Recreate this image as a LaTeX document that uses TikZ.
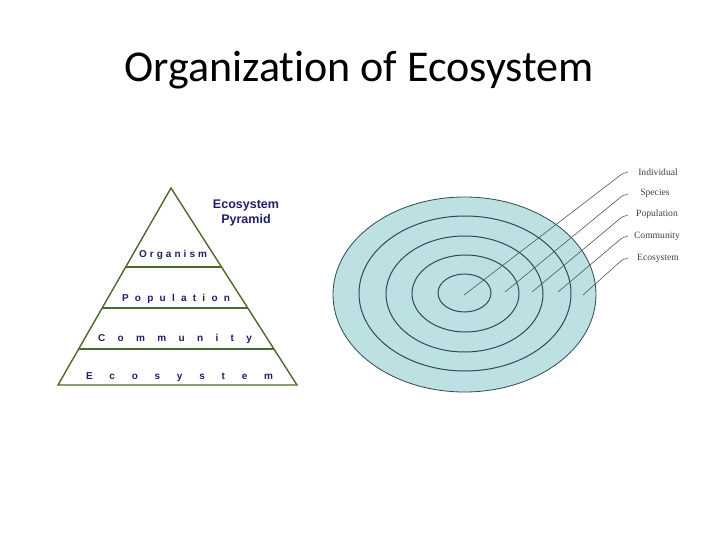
\documentclass[tikz,border=0pt]{standalone}
\usepackage{fontspec}
\setmainfont{Liberation Serif}
\newfontfamily\titlefont[Ligatures=NoCommon]{Carlito}
\newfontfamily\pyrfont{Liberation Sans}
\usetikzlibrary{calc}
\definecolor{pyrline}{HTML}{4B6B2E}
\definecolor{pyrtext}{HTML}{1F1F66}
\definecolor{ringfill}{HTML}{BDE0E3}
\definecolor{ringline}{HTML}{2F4A50}
\definecolor{leader}{HTML}{555555}
\newcommand\spreadw[2]{\hbox to #1{#2}}
\begin{document}
\begin{tikzpicture}[x=1pt,y=-1pt,
  pyr/.style={draw=pyrline,line width=1.4pt,line join=miter},
  tier/.style={draw=pyrline,line width=1.4pt},
  tiertext/.style={font=\pyrfont\bfseries\fontsize{10}{11}\selectfont,text=pyrtext,inner sep=0pt,anchor=base},
  ring/.style={draw=ringline,line width=1pt},
  lab/.style={font=\fontsize{9.6}{11}\selectfont,text=black!75,inner sep=0pt},
  lead/.style={draw=leader,line width=0.6pt}]
\useasboundingbox (0,0) rectangle (720,540);
% title
\node[font=\titlefont\fontsize{44}{50}\selectfont,anchor=base,inner sep=0pt] (title) at (359,82) {Organization of Ecosystem};
% pyramid
\coordinate (apex) at (171,188);
\coordinate (bl) at (58,385);
\coordinate (br) at (297,385);
\draw[pyr] (apex) -- (bl) -- (br) -- cycle;
\draw[tier] ($(apex)!{(267-188)/(385-188)}!(bl)$) coordinate (t1l) -- ($(apex)!{(267-188)/(385-188)}!(br)$) coordinate (t1r);
\draw[tier] ($(apex)!{(308-188)/(385-188)}!(bl)$) coordinate (t2l) -- ($(apex)!{(308-188)/(385-188)}!(br)$) coordinate (t2r);
\draw[tier] ($(apex)!{(349-188)/(385-188)}!(bl)$) coordinate (t3l) -- ($(apex)!{(349-188)/(385-188)}!(br)$) coordinate (t3r);
\node[tiertext] (org) at (173,258) {\spreadw{68pt}{O\hfil r\hfil g\hfil a\hfil n\hfil i\hfil s\hfil m}};
\node[tiertext] (pop) at (176,301) {\spreadw{108pt}{P\hfil o\hfil p\hfil u\hfil l\hfil a\hfil t\hfil i\hfil o\hfil n}};
\node[tiertext] (com) at (175,341) {\spreadw{154pt}{C\hfil o\hfil m\hfil m\hfil u\hfil n\hfil i\hfil t\hfil y}};
\node[tiertext] (eco) at (179.5,379) {\spreadw{187pt}{E\hfil c\hfil o\hfil s\hfil y\hfil s\hfil t\hfil e\hfil m}};
\node[font=\pyrfont\bfseries\fontsize{12.5}{14.5}\selectfont,text=pyrtext,align=center,inner sep=0pt] (ptitle) at (246,213) {Ecosystem\\Pyramid};
% rings
\fill[ringfill] (464.5,294.5) ellipse [x radius=131.5,y radius=97.5];
\draw[ringline,line width=0.8pt] (464.5,294.5) ellipse [x radius=131.5,y radius=97.5];
\draw[ring] (465,293.5) ellipse [x radius=106,y radius=77.5];
\draw[ring] (464.5,294) ellipse [x radius=78.5,y radius=58];
\draw[ring] (465.5,293.5) ellipse [x radius=53.5,y radius=38.5];
\draw[ring] (464.5,293) ellipse [x radius=26.5,y radius=19];
% labels
\node[lab] (lind) at (658,172) {Individual};
\node[lab] (lspe) at (655,193) {Species};
\node[lab] (lpop) at (657,214) {Population};
\node[lab] (lcom) at (657,236) {Community};
\node[lab] (leco) at (658,258) {Ecosystem};
\coordinate (s1) at (464,295);
\coordinate (s2) at (505,292);
\coordinate (s3) at (532,292);
\coordinate (s4) at (558,292);
\coordinate (s5) at (583,295);
\coordinate (k1) at (622,174);
\coordinate (k2) at (622,196);
\coordinate (k3) at (622,217);
\coordinate (k4) at (622,238);
\coordinate (k5) at (622,260);
\coordinate (e1) at (628,172);
\coordinate (e2) at (628,194);
\coordinate (e3) at (628,215);
\coordinate (e4) at (628,236);
\coordinate (e5) at (628,258);
\draw[lead] (s1) -- (k1) -- (e1);
\draw[lead] (s2) -- (k2) -- (e2);
\draw[lead] (s3) -- (k3) -- (e3);
\draw[lead] (s4) -- (k4) -- (e4);
\draw[lead] (s5) -- (k5) -- (e5);
\end{tikzpicture}
\end{document}
